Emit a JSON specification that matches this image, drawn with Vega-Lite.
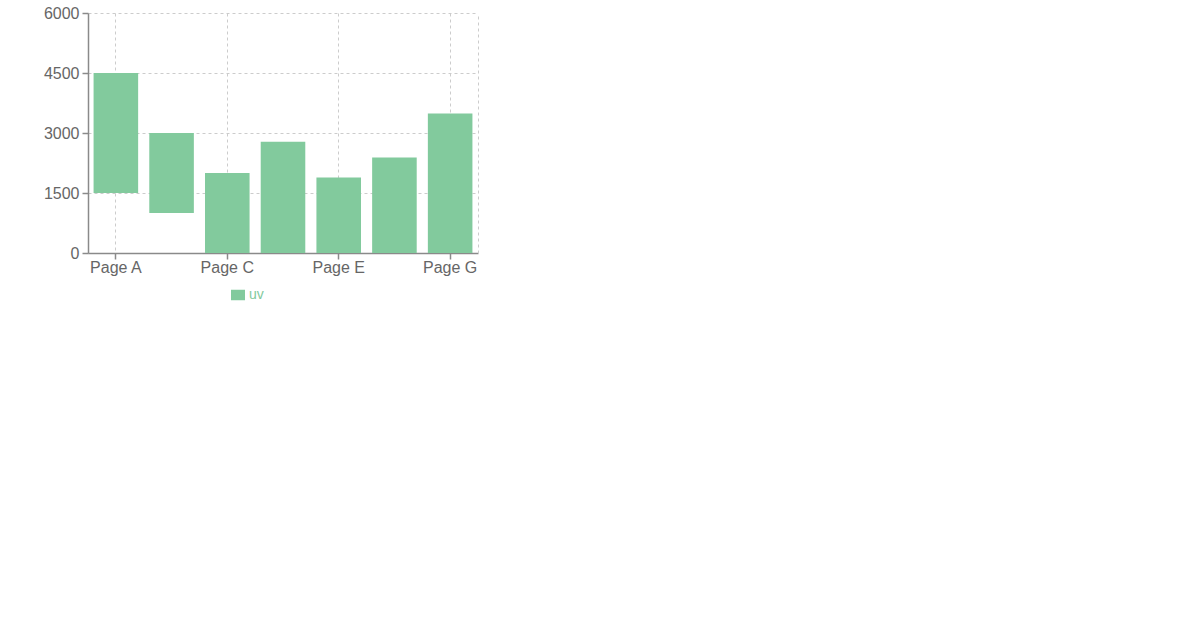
{
  "$schema": "https://vega.github.io/schema/vega-lite/v6.json",
  "autosize": {"type": "none"},
  "padding": {"left": 88, "top": 13, "right": 722, "bottom": 377},
  "width": 390,
  "height": 240,
  "background": "white",
  "data": {
    "values": [
      {"name": "Page A", "low": 1500, "high": 4500},
      {"name": "Page B", "low": 1000, "high": 3000},
      {"name": "Page C", "low": 0, "high": 2000},
      {"name": "Page D", "low": 0, "high": 2780},
      {"name": "Page E", "low": 0, "high": 1890},
      {"name": "Page F", "low": 0, "high": 2390},
      {"name": "Page G", "low": 0, "high": 3490}
    ]
  },
  "encoding": {
    "x": {
      "field": "name",
      "type": "nominal",
      "sort": null,
      "scale": {"paddingInner": 0, "paddingOuter": 0},
      "axis": {
        "title": null,
        "values": ["Page A", "Page C", "Page E", "Page G"],
        "labelAngle": 0,
        "bandPosition": 0.5,
        "grid": true,
        "gridDash": [3, 3],
        "gridColor": "#cccccc",
        "domainColor": "#8a8a8a",
        "tickColor": "#8a8a8a",
        "tickSize": 6,
        "labelPadding": 0
      }
    }
  },
  "layer": [
    {
      "mark": {"type": "bar", "opacity": 0},
      "encoding": {
        "y": {
          "field": "high",
          "type": "quantitative",
          "scale": {"domain": [0, 6000], "nice": false},
          "axis": {
            "title": null,
            "orient": "right",
            "labels": false,
            "ticks": false,
            "grid": false,
            "domainDash": [3, 3],
            "domainColor": "#cccccc",
            "domainWidth": 1
          }
        }
      }
    },
    {
      "mark": {"type": "bar", "width": {"band": 0.8}},
      "encoding": {
        "y": {
          "field": "high",
          "type": "quantitative",
          "scale": {"domain": [0, 6000], "nice": false},
          "axis": {
            "title": null,
            "values": [0, 1500, 3000, 4500, 6000],
            "format": "d",
            "grid": true,
            "gridDash": [3, 3],
            "gridColor": "#cccccc",
            "domainColor": "#8a8a8a",
            "tickColor": "#8a8a8a",
            "tickSize": 6,
            "labelPadding": 3
          }
        },
        "y2": {"field": "low"},
        "color": {
          "datum": "uv",
          "type": "nominal",
          "scale": {"range": ["#82ca9d"]},
          "legend": {
            "title": null,
            "orient": "none",
            "legendX": 143,
            "legendY": 275,
            "symbolType": "M-1,-0.75H1V0.75H-1Z",
            "symbolSize": 196,
            "symbolStrokeWidth": 0,
            "symbolOpacity": 1,
            "labelColor": "#82ca9d",
            "labelFontSize": 14,
            "labelOffset": 4
          }
        }
      }
    }
  ],
  "resolve": {"scale": {"y": "independent"}, "axis": {"y": "independent"}},
  "config": {
    "view": {"stroke": null},
    "font": "Liberation Sans",
    "axis": {
      "labelFont": "Liberation Sans",
      "labelFontSize": 16,
      "labelColor": "#666666",
      "domainWidth": 1.5,
      "tickWidth": 1.5
    },
    "legend": {"labelFont": "Liberation Sans"}
  }
}
